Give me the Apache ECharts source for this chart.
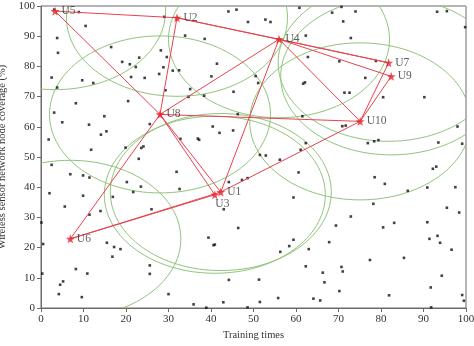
<!DOCTYPE html>
<html>
<head>
<meta charset="utf-8">
<script src="https://cdn.jsdelivr.net/npm/echarts@6/dist/echarts.min.js"></script>
<style>html,body{margin:0;padding:0;background:#fff;}#c{width:474px;height:346px;}</style>
</head>
<body>
<div id="c"></div>
<script>
// ---- Data ----
const xTicks = [0,10,20,30,40,50,60,70,80,90,100];
const yTicks = [0,10,20,30,40,50,60,70,80,90,100];

const nodeNames = ['U1','U2','U3','U4','U5','U6','U7','U8','U9','U10'];
const nodeX = [42.3, 32.0, 40.9, 56.0, 3.3, 6.9, 81.8, 28.0, 82.4, 75.1];
const nodeY = [38.4, 96.1, 37.5, 89.0, 98.3, 22.9, 81.2, 64.1, 76.7, 61.8];
const coverRadius = [26, 26, 26, 26, 26, 26, 26, 26, 26, 26];

const edgeFrom = ['U5','U2','U2','U4','U4','U5','U2','U8','U8','U8','U8','U8','U6','U6','U1','U4','U4','U10','U10'];
const edgeTo   = ['U2','U4','U7','U7','U9','U8','U8','U4','U10','U1','U3','U6','U3','U1','U10','U1','U10','U7','U9'];

const dotX = [3.1,8.9,10.5,3.8,16.5,4.0,19.1,20.9,23.1,22.3,2.5,9.7,12.3,3.8,21.2,24.4,20.5,8.2,3.1,14.9,5.0,11.3,15.4,14.1,1.8,11.8,19.9,23.6,24.1,
  29.0,44.1,46.0,48.7,33.9,38.5,28.2,29.6,41.4,28.8,31.0,32.5,27.8,40.1,50.5,29.3,35.1,45.3,34.7,38.4,46.3,25.6,40.4,45.2,42.0,32.8,36.9,37.2,
  60.8,70.7,52.8,54.0,68.5,74.0,71.1,62.3,72.9,62.8,70.2,51.1,61.7,62.1,71.4,72.6,61.5,70.9,71.7,62.3,61.1,51.5,52.9,
  78.8,76.3,80.5,90.2,76.9,78.4,79.4,93.5,98.0,99.1,93.2,95.5,99.8,
  56.2,60.6,78.5,92.2,93.0,47.3,48.6,44.2,31.9,32.6,
  2.5,6.9,9.9,11.4,23.0,20.2,23.5,21.7,2.0,9.9,16.9,5.6,14.0,11.4,0.1,0.5,15.5,17.2,18.7,16.8,0.3,8.2,10.9,5.2,4.5,4.2,9.6,
  26.0,43.0,46.4,39.4,40.6,40.9,25.6,25.6,44.2,30.0,35.9,38.9,42.9,48.6,
  59.4,72.9,69.4,67.8,59.4,58.4,56.3,63.0,62.3,70.7,71.0,66.3,66.7,51.3,70.2,51.5,55.8,64.1,65.7,
  80.9,86.3,90.9,97.5,78.2,95.5,98.4,83.1,90.9,80.5,93.3,91.4,93.9,96.6,77.4,85.4,94.3,91.7,81.9,99.1,99.5,91.8];
const dotY = [98.8,98.0,93.4,89.4,86.4,84.5,81.5,80.7,82.9,79.8,76.3,75.4,74.5,73.0,76.5,76.2,68.5,67.8,64.7,63.5,61.5,60.7,58.5,57.4,55.8,52.4,53.1,53.0,53.5,
  96.4,98.2,98.8,94.7,90.2,89.1,85.3,83.1,80.9,79.7,78.6,78.7,77.5,76.7,76.8,72.1,72.5,71.6,69.9,70.3,64.2,60.9,60.1,58.8,58.0,56.0,56.1,55.7,
  99.4,99.7,95.5,94.7,97.8,98.2,94.9,90.2,89.4,83.1,81.7,74.5,74.3,74.7,71.3,71.3,63.5,60.2,60.4,54.6,52.4,50.7,50.5,
  81.8,76.2,69.8,69.8,54.6,55.2,55.6,54.8,60.1,54.4,98.1,98.3,93.0,
  49.1,44.9,43.3,46.1,46.8,42.4,43.0,41.7,45.1,39.4,
  47.4,44.3,43.9,43.2,49.4,41.7,40.2,38.4,38.0,37.2,36.8,33.6,32.1,30.9,28.3,21.2,21.6,20.2,19.5,17.0,11.4,12.9,11.4,8.8,7.7,4.6,3.6,
  32.7,32.7,26.5,23.3,20.8,21.0,14.1,11.3,9.3,4.6,1.2,0.1,1.9,0.2,
  36.6,30.3,27.3,21.8,22.6,20.5,18.6,19.5,13.8,13.6,12.1,11.7,8.5,9.4,5.6,2.0,3.3,3.1,2.5,
  41.1,38.8,39.9,40.0,34.5,33.2,31.6,28.2,28.4,26.7,23.9,22.9,21.6,19.3,15.9,16.6,10.7,6.8,4.2,4.3,2.4,0.2];

// ---- Build ----
const pos = {};
nodeNames.forEach((n, i) => { pos[n] = [nodeX[i], nodeY[i]]; });
const FONT = 'Liberation Serif';
const STAR = 'path://M0,-10L2.35,-3.24L9.51,-3.09L3.8,1.24L5.88,8.09L0,4.3L-5.88,8.09L-3.8,1.24L-9.51,-3.09L-2.35,-3.24Z';

const chart = echarts.init(document.getElementById('c'), null, {renderer: 'canvas'});
const axisCommon = {
  type: 'value', min: 0, max: 100, interval: 10,
  axisLine: {show: true, lineStyle: {color: '#6b6b6b', width: 1}},
  axisTick: {show: true, inside: false, length: 4, lineStyle: {color: '#6b6b6b'}},
  splitLine: {show: false},
  axisLabel: {color: '#333', fontFamily: FONT, fontSize: 11, margin: 6},
  nameLocation: 'middle',
  nameTextStyle: {color: '#333', fontFamily: FONT, fontSize: 10.5}
};
chart.setOption({
  animation: false,
  backgroundColor: '#fff',
  grid: {left: 41, right: 8, top: 6, bottom: 38, containLabel: false, outerBoundsMode: 'none',
         show: true, borderColor: '#6b6b6b', borderWidth: 1, backgroundColor: 'transparent'},
  xAxis: Object.assign({}, axisCommon, {name: 'Training times', nameGap: 22}),
  yAxis: Object.assign({}, axisCommon, {name: 'Wireless sensor network node coverage (%)', nameGap: 26}),
  series: [
    {
      type: 'custom',
      clip: true,
      silent: true,
      z: 1,
      data: nodeNames.map((n, i) => [nodeX[i], nodeY[i], coverRadius[i]]),
      renderItem: function (params, api) {
        const c = api.coord([api.value(0), api.value(1)]);
        const s = api.size([api.value(2), api.value(2)]);
        return {
          type: 'ellipse',
          shape: {cx: c[0], cy: c[1], rx: s[0], ry: s[1]},
          style: {fill: 'none', stroke: '#8fc47c', lineWidth: 1}
        };
      }
    },
    {
      type: 'scatter',
      z: 2,
      symbol: 'rect',
      symbolSize: 2.6,
      itemStyle: {color: '#111'},
      data: dotX.map((x, i) => [x, dotY[i]])
    },
    {
      type: 'lines',
      coordinateSystem: 'cartesian2d',
      z: 3,
      silent: true,
      lineStyle: {color: '#e8434e', width: 1, opacity: 1, curveness: 0},
      data: edgeFrom.map((a, i) => ({coords: [pos[a], pos[edgeTo[i]]]}))
    },
    {
      type: 'scatter',
      z: 4,
      symbol: STAR,
      symbolSize: 9,
      itemStyle: {color: '#e3242e'},
      label: {
        show: true, position: 'right', distance: 2, formatter: '{b}',
        color: '#333', fontFamily: FONT, fontSize: 11.5
      },
      data: nodeNames.map((n, i) => {
        const d = {name: n, value: [nodeX[i], nodeY[i]]};
        if (n === 'U3') d.label = {offset: [-6, 9]};
        return d;
      })
    }
  ]
});
</script>
</body>
</html>
